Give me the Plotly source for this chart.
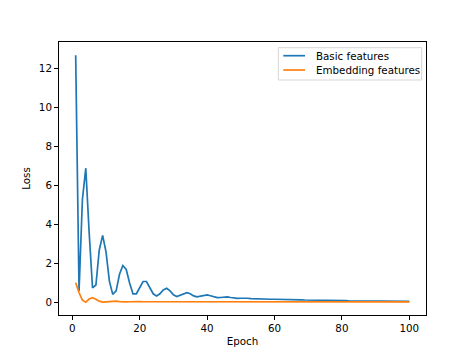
import plotly.graph_objects as go

epochs = list(range(1, 101))
basic_features = [
    12.7, 0.6, 5.3, 6.9, 3.6, 0.75, 0.9, 2.7, 3.45, 2.6,
    1.1, 0.42, 0.6, 1.45, 1.9, 1.7, 1.0, 0.45, 0.45, 0.8,
    1.08, 1.08, 0.8, 0.45, 0.34, 0.45, 0.65, 0.73, 0.6, 0.4,
    0.31, 0.38, 0.48, 0.51, 0.45, 0.34, 0.29, 0.32, 0.38, 0.39,
    0.35, 0.29, 0.25, 0.26, 0.29, 0.29, 0.26, 0.22, 0.21, 0.22,
    0.23, 0.22, 0.20, 0.19, 0.19, 0.20, 0.19, 0.18, 0.17, 0.17,
    0.17, 0.16, 0.16, 0.15, 0.15, 0.15, 0.14, 0.14, 0.13, 0.13,
    0.13, 0.12, 0.12, 0.12, 0.11, 0.11, 0.11, 0.10, 0.10, 0.10,
    0.10, 0.09, 0.09, 0.09, 0.09, 0.08, 0.08, 0.08, 0.08, 0.08,
    0.07, 0.07, 0.07, 0.07, 0.07, 0.06, 0.06, 0.06, 0.06, 0.06,
]
embedding_features = [
    1.02, 0.5, 0.12, 0.02, 0.18, 0.25, 0.17, 0.07, 0.02, 0.03,
    0.06, 0.08, 0.07, 0.05, 0.03, 0.03, 0.04, 0.05, 0.05, 0.05,
    0.04, 0.04, 0.04, 0.04, 0.04, 0.04, 0.04, 0.04, 0.04, 0.04,
    0.04, 0.04, 0.04, 0.04, 0.04, 0.04, 0.04, 0.04, 0.04, 0.04,
    0.04, 0.04, 0.04, 0.04, 0.04, 0.04, 0.04, 0.04, 0.04, 0.04,
    0.035, 0.035, 0.035, 0.035, 0.035, 0.035, 0.035, 0.035, 0.035, 0.035,
    0.035, 0.035, 0.035, 0.035, 0.035, 0.035, 0.035, 0.035, 0.035, 0.035,
    0.03, 0.03, 0.03, 0.03, 0.03, 0.03, 0.03, 0.03, 0.03, 0.03,
    0.03, 0.03, 0.03, 0.03, 0.03, 0.03, 0.03, 0.03, 0.03, 0.03,
    0.03, 0.03, 0.03, 0.03, 0.03, 0.03, 0.03, 0.03, 0.03, 0.03,
]
series_names = ["Basic features", "Embedding features"]
series_colors = ["#1f77b4", "#ff7f0e"]
x_ticks = [0, 20, 40, 60, 80, 100]
y_ticks = [0, 2, 4, 6, 8, 10, 12]

FONT = "DejaVu Sans"
FS = 10.3
W, H = 474, 355
L, R, T, B = 59, 48, 42, 40
PW, PH = W - L - R, H - T - B


def px_x(p):
    return (p - L) / PW


def px_y(p):
    return (H - B - p) / PH


fig = go.Figure()
for name, vals, col in zip(series_names, [basic_features, embedding_features], series_colors):
    fig.add_trace(go.Scatter(x=epochs, y=vals, mode="lines", name=name,
                             line=dict(color=col, width=1.7), showlegend=False))

axis_common = dict(showgrid=False, zeroline=False, showline=True, linecolor="black",
                   linewidth=1, mirror=True, ticks="outside", ticklen=4, tickwidth=1,
                   tickcolor="black", automargin=False,
                   tickfont=dict(family=FONT, size=FS, color="black"))

fig.update_xaxes(range=[-3.95, 104.95], tickvals=x_ticks,
                 title=dict(text="Epoch", font=dict(family=FONT, size=FS, color="black"), standoff=4),
                 **axis_common)
fig.update_yaxes(range=[-0.64, 13.38], tickvals=y_ticks,
                 title=dict(text="Loss", font=dict(family=FONT, size=FS, color="black"), standoff=6),
                 **axis_common)

# legend (matplotlib-style box drawn in paper coordinates)
fig.add_shape(type="rect", xref="paper", yref="paper",
              x0=px_x(278.3), x1=px_x(421.7), y0=px_y(80), y1=px_y(47.7),
              line=dict(color="#d6d6d6", width=1), fillcolor="rgba(255,255,255,0.8)", layer="above")
for i, (name, col) in enumerate(zip(series_names, series_colors)):
    ypx = 55.7 + i * 14.3
    fig.add_shape(type="line", xref="paper", yref="paper",
                  x0=px_x(283.3), x1=px_x(305), y0=px_y(ypx), y1=px_y(ypx),
                  line=dict(color=col, width=1.7), layer="above")
    fig.add_annotation(text=name, xref="paper", yref="paper", x=px_x(314.3), y=px_y(ypx),
                       xanchor="left", yanchor="middle", showarrow=False,
                       font=dict(family=FONT, size=FS, color="black"))

fig.update_layout(
    width=W, height=H,
    margin=dict(l=L, r=R, t=T, b=B),
    paper_bgcolor="white", plot_bgcolor="white",
    font=dict(family=FONT, size=FS, color="black"),
    showlegend=False,
)

fig.write_html("out.html", config={"displayModeBar": False},
               post_script="document.body.style.margin='0';document.body.style.overflow='hidden';")
